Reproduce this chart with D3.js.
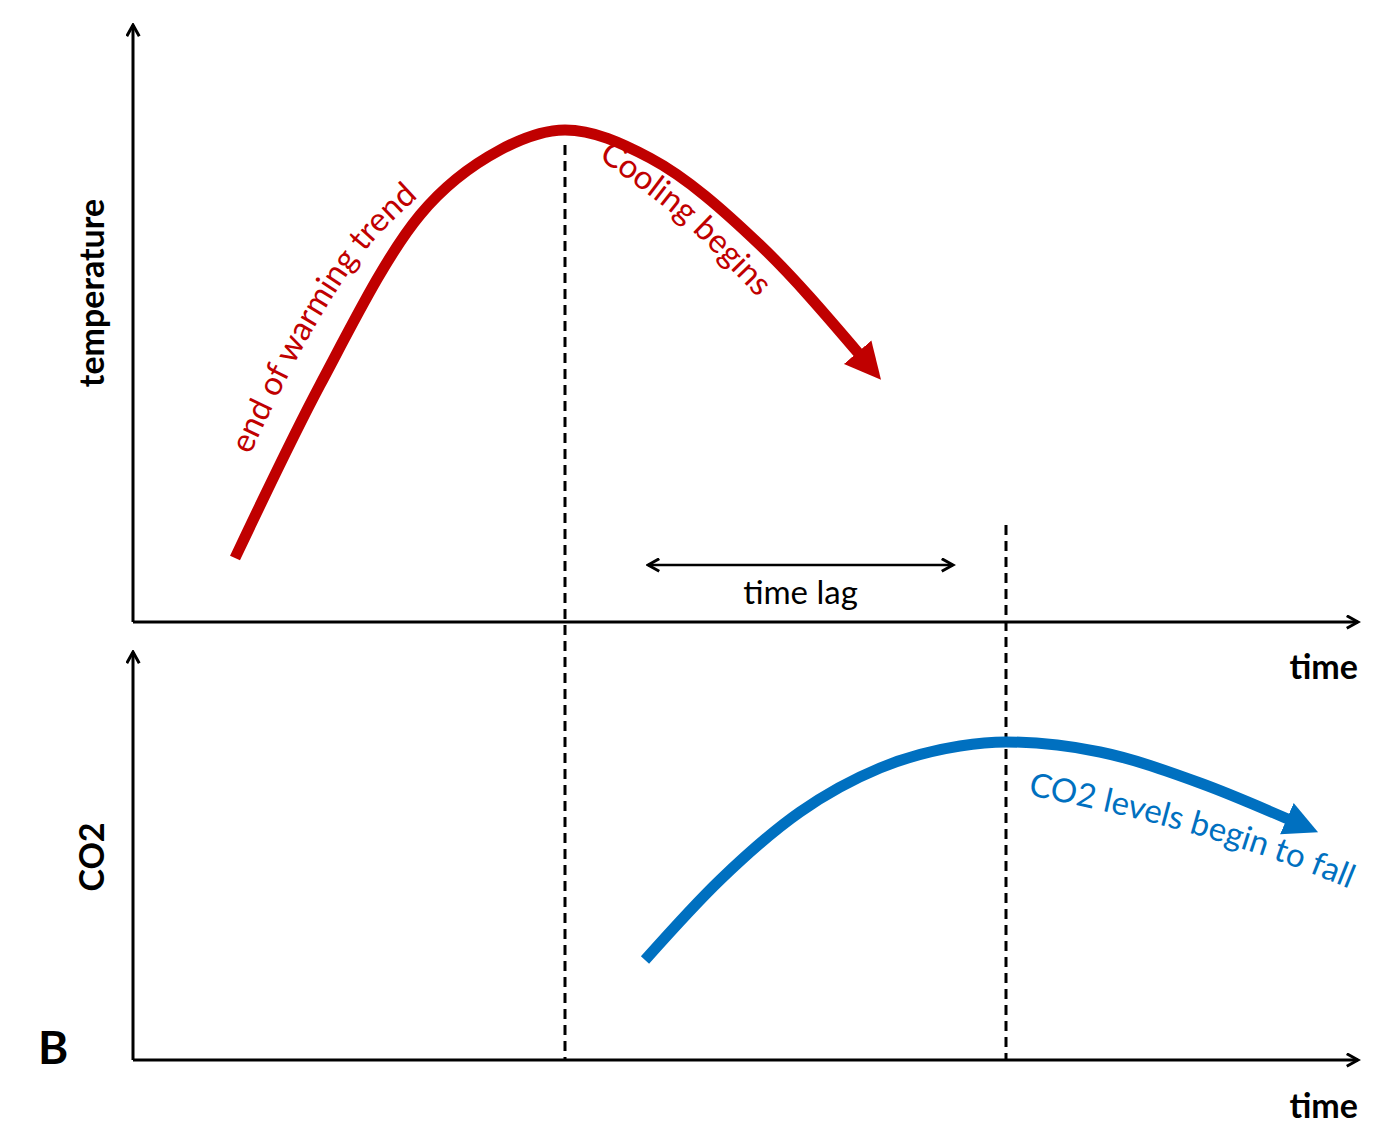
<!DOCTYPE html>
<html><head><meta charset="utf-8">
<script src="https://cdn.jsdelivr.net/npm/d3@7"></script>
<style>body{margin:0;background:#fff}text{font-family:Lato,"Open Sans",sans-serif}</style>
</head><body><svg id="c" width="1390" height="1136"></svg>
<script>
// time units (0..1225), value units per panel
const tempTime = [102,187,287,367,432,517,627,727];
const tempVals = [64,237,407,472,492,464,377,267];
const co2Time  = [512,587,667,747,827,873,967,1067,1157];
const co2Vals  = [100,180,248,292,314,318,308,277,240];
const peakTemp = 424, peakCO2 = 873;
const lagStart = 515, lagEnd = 820;
const endLabel = {t:[117,177,237,307],v:[167,287,377,444]};
const coolLabel = {t:[465,547,632],v:[464,402,317]};
const co2Label = {t:[895,1017,1137,1227],v:[265,238,202,167]};

const svg = d3.select("#c");
const x = d3.scaleLinear().domain([0,1225]).range([133,1358]);
const yT = d3.scaleLinear().domain([0,597]).range([622,25]);
const yC = d3.scaleLinear().domain([0,408]).range([1060,652]);
const red="#c00000", blue="#0070c0";

const defs = svg.append("defs");
function marker(id,col,w,h){
  defs.append("marker").attr("id",id).attr("viewBox","0 0 10 10").attr("refX",1).attr("refY",5)
   .attr("markerWidth",w).attr("markerHeight",h).attr("orient","auto").attr("markerUnits","userSpaceOnUse")
   .append("path").attr("d","M0,0L10,5L0,10Z").attr("fill",col);
}
marker("rr",red,36,38); marker("br",blue,34,36);
defs.append("marker").attr("id","al").attr("viewBox","0 0 12 12").attr("refX",10).attr("refY",6)
 .attr("markerWidth",15).attr("markerHeight",15).attr("orient","auto-start-reverse").attr("markerUnits","userSpaceOnUse")
 .append("path").attr("d","M1,1L10,6L1,11").attr("fill","none").attr("stroke","#000").attr("stroke-width",2.4);

function axis(y0,y1){
  svg.append("line").attr("x1",x(0)).attr("x2",x(0)).attr("y1",y0).attr("y2",y1).attr("stroke","#000").attr("stroke-width",3).attr("marker-end","url(#al)");
  svg.append("line").attr("x1",x(0)).attr("x2",x(1225)).attr("y1",y0).attr("y2",y0).attr("stroke","#000").attr("stroke-width",3).attr("marker-end","url(#al)");
}
axis(yT(0),yT(597)); axis(yC(0),yC(408));

const dash=(t,ya,yb)=>svg.append("line").attr("x1",x(t)).attr("x2",x(t)).attr("y1",ya).attr("y2",yb).attr("stroke","#000").attr("stroke-width",3).attr("stroke-dasharray","10,6");
dash(peakTemp+8,yT(477),yC(0)); dash(peakCO2,yT(97),yC(0));

svg.append("line").attr("x1",x(lagStart)).attr("x2",x(lagEnd)).attr("y1",565).attr("y2",565).attr("stroke","#000").attr("stroke-width",2.5)
 .attr("marker-start","url(#al)").attr("marker-end","url(#al)");
svg.append("text").attr("x",x((lagStart+lagEnd)/2)).attr("y",604).attr("text-anchor","middle").attr("font-size",33).text("time lag");

const ln=(ys)=>d3.line().x(d=>x(d[0])).y(d=>ys(d[1])).curve(d3.curveMonotoneX);
svg.append("path").attr("d",ln(yT)(d3.zip(tempTime,tempVals))).attr("fill","none").attr("stroke",red).attr("stroke-width",11).attr("marker-end","url(#rr)");
svg.append("path").attr("d",ln(yC)(d3.zip(co2Time,co2Vals))).attr("fill","none").attr("stroke",blue).attr("stroke-width",11).attr("marker-end","url(#br)");

function pathText(id,lab,ys,txt,col){
  defs.append("path").attr("id",id).attr("d",d3.line().x(d=>x(d[0])).y(d=>ys(d[1])).curve(d3.curveCatmullRom)(d3.zip(lab.t,lab.v)));
  svg.append("text").attr("fill",col).attr("font-size",33).append("textPath").attr("href","#"+id).text(txt);
}
pathText("p1",endLabel,yT,"end of warming trend",red);
pathText("p2",coolLabel,yT,"Cooling begins",red);
pathText("p3",co2Label,yC,"CO2 levels begin to fall",blue);

svg.append("text").attr("transform","translate(104,293) rotate(-90)").attr("text-anchor","middle").attr("font-size",34).attr("font-weight","bold").text("temperature");
svg.append("text").attr("transform","translate(104,857) rotate(-90)").attr("text-anchor","middle").attr("font-size",34).attr("font-weight","bold").text("CO2");
svg.append("text").attr("x",1358).attr("y",679).attr("text-anchor","end").attr("font-size",34).attr("font-weight","bold").text("time");
svg.append("text").attr("x",1358).attr("y",1118).attr("text-anchor","end").attr("font-size",34).attr("font-weight","bold").text("time");
svg.append("text").attr("x",38).attr("y",1064).attr("font-size",46).attr("font-weight","bold").text("B");
</script></body></html>
